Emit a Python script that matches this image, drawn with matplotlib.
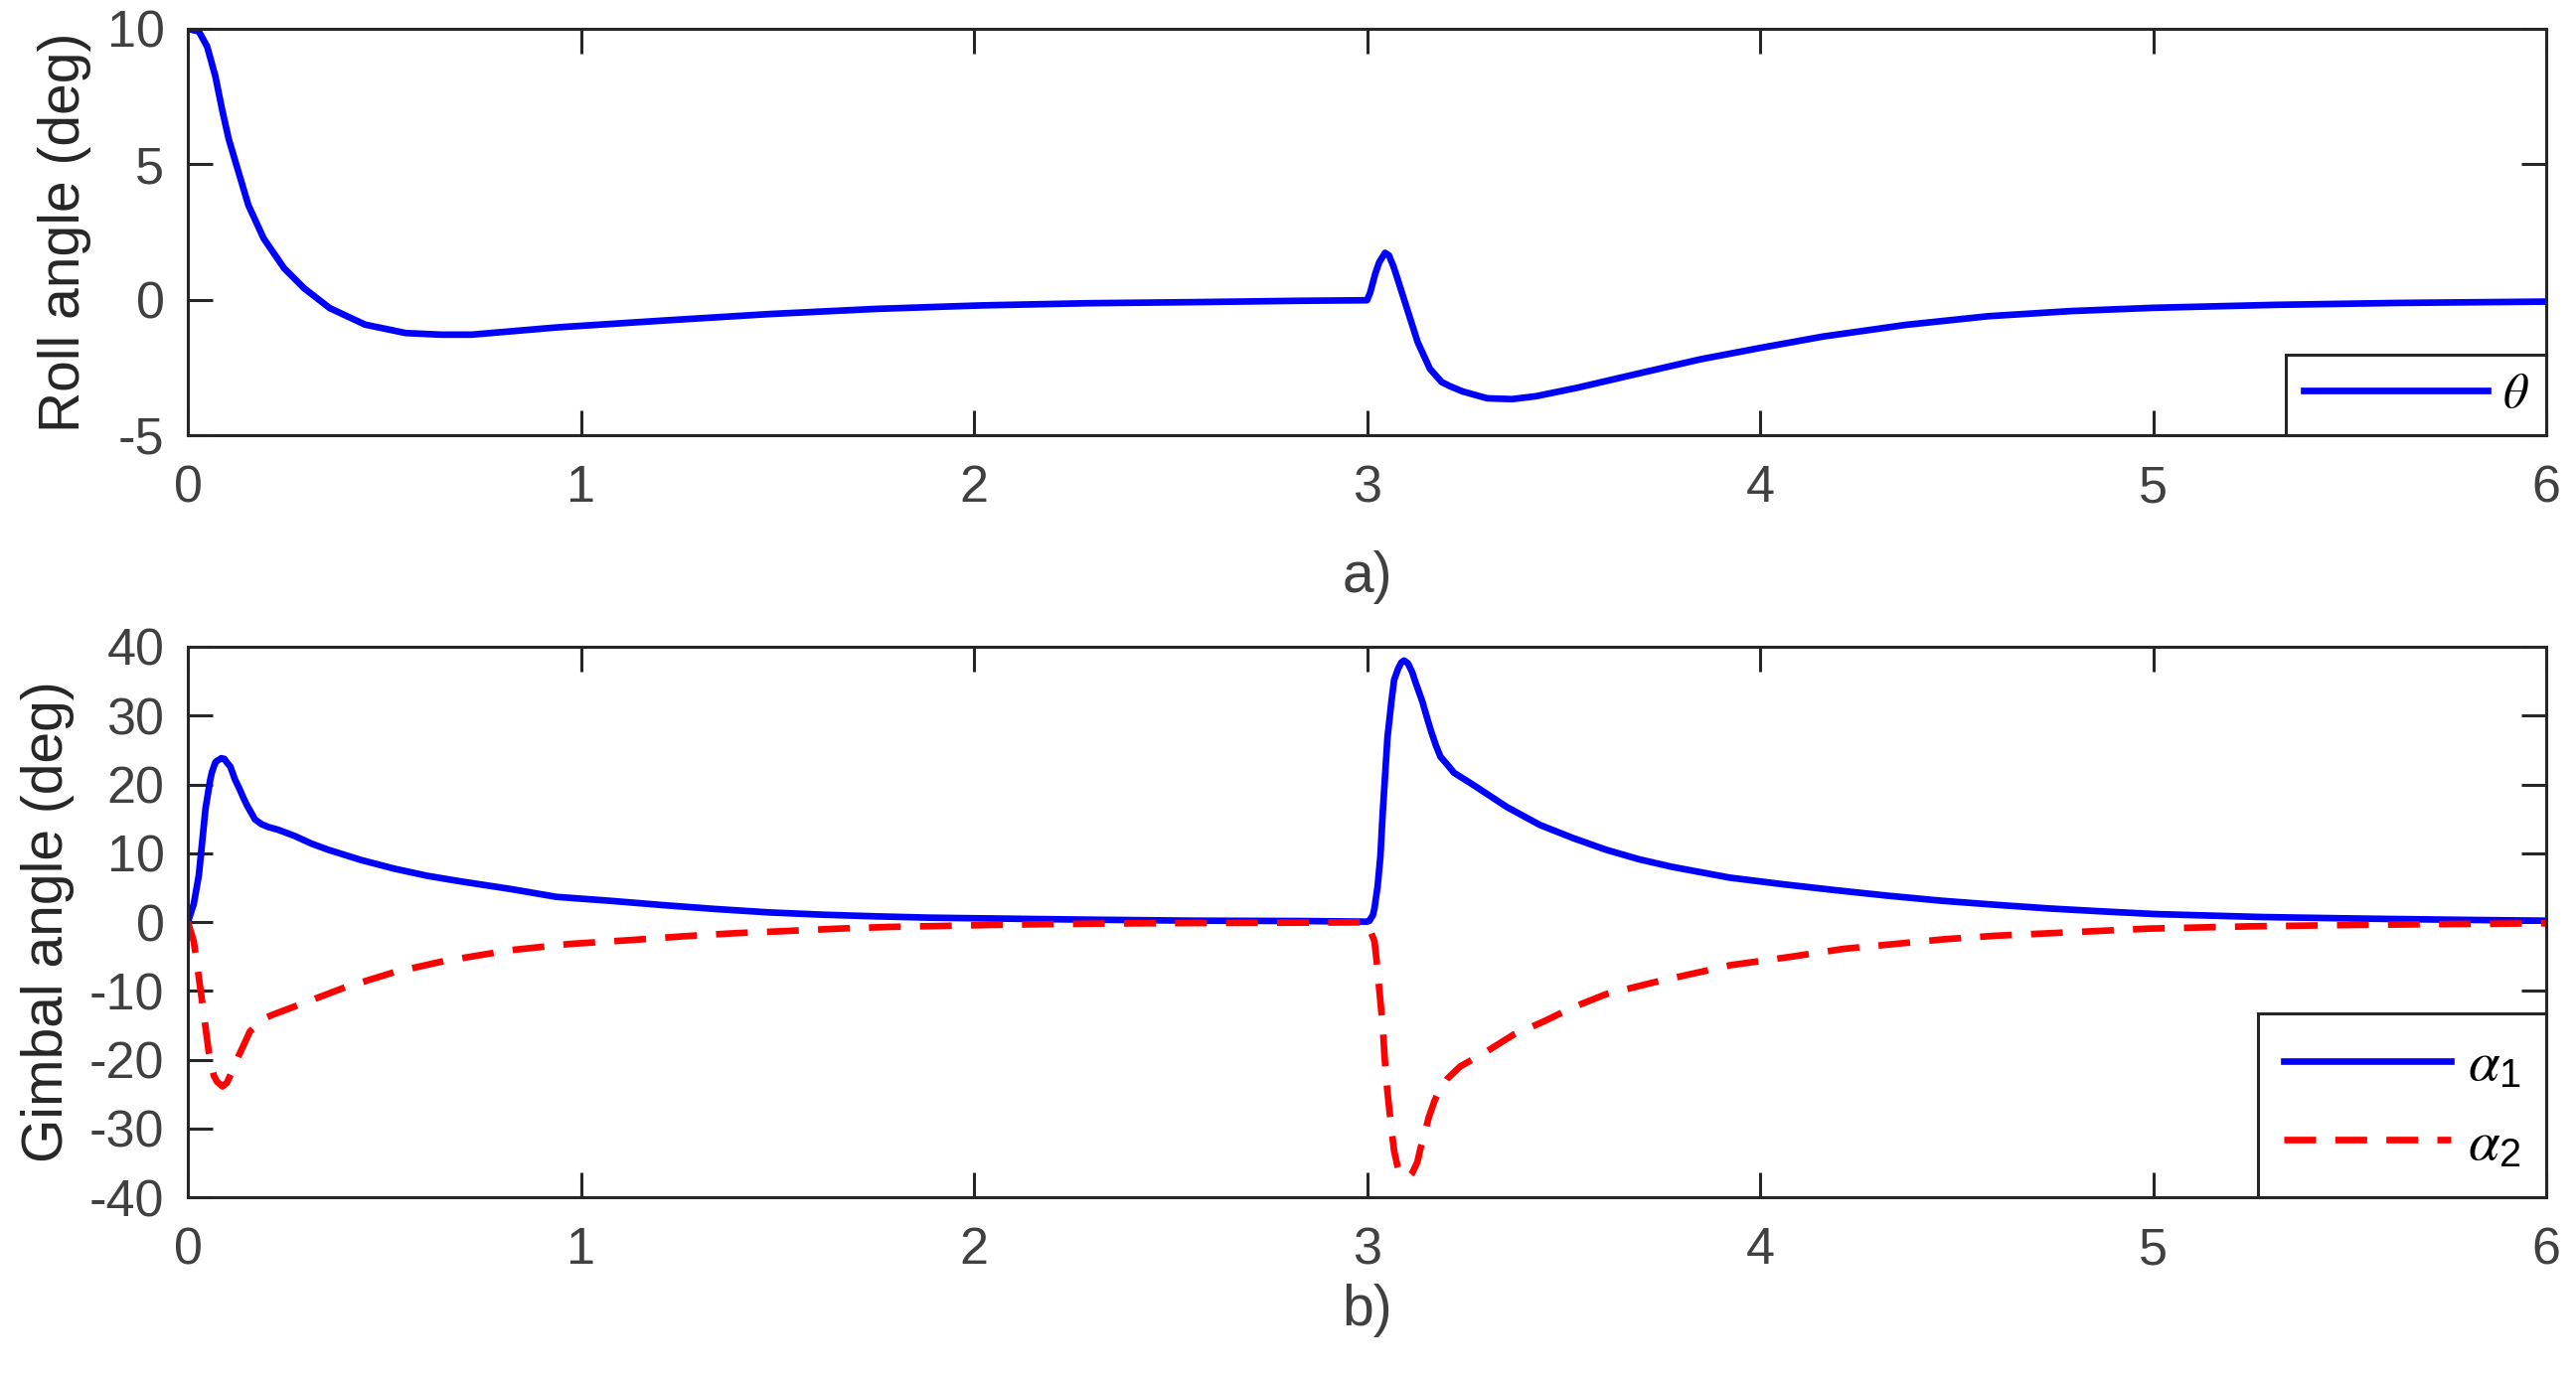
import matplotlib
matplotlib.use('Agg')
import matplotlib.pyplot as plt

# Roll angle theta (deg) vs time (s)
t_theta = [0, 0.028, 0.049, 0.07, 0.087, 0.104, 0.129, 0.154, 0.193, 0.245,
           0.296, 0.361, 0.451, 0.554, 0.644, 0.722, 0.941, 1.209, 1.479, 1.75,
           2.02, 2.29, 2.56, 2.83, 3.0, 3.008, 3.021, 3.031, 3.046, 3.056,
           3.067, 3.077, 3.098, 3.129, 3.16, 3.177, 3.19, 3.212,
           3.244, 3.306, 3.369, 3.431, 3.535, 3.68, 3.848, 4.0, 4.16, 4.37,
           4.58, 4.79, 5.0, 5.31, 5.62, 6.0]
theta = [10.0, 9.9, 9.35, 8.25, 7.03, 5.93, 4.71, 3.49, 2.26, 1.16,
         0.42, -0.31, -0.92, -1.23, -1.29, -1.29, -1.02, -0.77, -0.53, -0.34,
         -0.21, -0.13, -0.09, -0.04, -0.02, 0.26, 0.96, 1.38, 1.73, 1.63,
         1.24, 0.8, -0.16, -1.57, -2.55, -2.83, -3.04, -3.2,
         -3.39, -3.64, -3.67, -3.56, -3.25, -2.76, -2.2, -1.78, -1.36, -0.93,
         -0.61, -0.42, -0.30, -0.19, -0.12, -0.07]

# Gimbal angle alpha_1 (deg)
t_a1 = [0, 0.015, 0.028, 0.045, 0.057, 0.0615, 0.07, 0.074, 0.085, 0.093,
        0.099, 0.108, 0.12, 0.131, 0.141, 0.15, 0.163, 0.171, 0.188, 0.205,
        0.23, 0.272, 0.314, 0.357, 0.441, 0.525, 0.61, 0.694, 0.82, 0.938,
        1.074, 1.209, 1.344, 1.479, 1.615, 1.75, 1.886, 2.02, 2.157, 2.29,
        2.56, 2.83, 3.0, 3.006, 3.015, 3.019, 3.027, 3.034, 3.04, 3.046,
        3.052, 3.062, 3.069, 3.079, 3.087, 3.094, 3.104, 3.115, 3.123, 3.141,
        3.149, 3.162, 3.175, 3.187, 3.204, 3.221, 3.271, 3.356, 3.44, 3.524,
        3.608, 3.693, 3.777, 3.922, 4.057, 4.192, 4.328, 4.463, 4.599, 4.734,
        4.87, 5.006, 5.277, 5.547, 5.818, 6.0]
a1 = [0, 2.6, 6.8, 16.5, 20.7, 21.8, 23.2, 23.4, 23.8, 23.7,
      23.2, 22.6, 20.7, 19.4, 18.1, 17.0, 15.7, 14.9, 14.2, 13.8,
      13.4, 12.5, 11.4, 10.5, 9.0, 7.75, 6.7, 5.9, 4.8, 3.65,
      3.08, 2.45, 1.88, 1.39, 1.06, 0.82, 0.63, 0.53, 0.43, 0.34,
      0.19, 0.14, 0.05, 0.16, 1.0, 2.0, 5.2, 9.5, 15.9, 21.3,
      26.8, 32.0, 35.2, 36.8, 37.7, 38.0, 37.6, 36.3, 34.9, 32.0,
      30.4, 27.9, 25.7, 24.0, 22.9, 21.7, 19.9, 16.7, 14.1, 12.2,
      10.5, 9.1, 8.0, 6.45, 5.49, 4.62, 3.8, 3.08, 2.5, 1.97,
      1.54, 1.15, 0.72, 0.48, 0.29, 0.19]

# Gimbal angle alpha_2 (deg)
t_a2 = [0, 0.015, 0.032, 0.053, 0.059, 0.066, 0.074, 0.088, 0.099, 0.108,
        0.116, 0.128, 0.146, 0.158, 0.179, 0.195, 0.215, 0.28, 0.40, 0.525,
        0.65, 0.82, 0.97, 1.134, 1.263, 1.392, 1.527, 1.656, 1.784, 1.913,
        2.046, 2.174, 2.306, 2.434, 2.56, 2.83, 3.0, 3.019, 3.026, 3.031,
        3.04, 3.045, 3.052, 3.061, 3.069, 3.078, 3.082, 3.098, 3.107, 3.115,
        3.128, 3.136, 3.145, 3.157, 3.171, 3.178, 3.192, 3.204, 3.237, 3.305,
        3.372, 3.448, 3.524, 3.608, 3.735, 3.861, 3.922, 4.085, 4.213, 4.342,
        4.47, 4.599, 4.734, 4.99, 5.249, 5.513, 5.77, 6.0]
a2 = [0, -2.8, -9.7, -18.8, -20.6, -22.3, -23.2, -23.9, -23.4, -22.3,
      -21.3, -19.6, -17.4, -15.9, -14.8, -14.0, -13.5, -12.1, -9.5, -7.3,
      -5.7, -4.1, -3.2, -2.6, -2.07, -1.63, -1.3, -0.96, -0.72, -0.58,
      -0.43, -0.32, -0.24, -0.19, -0.16, -0.1, -0.05, -2.8, -6.5, -9.7,
      -15.1, -19.9, -24.7, -29.5, -33.3, -35.6, -36.4, -37.0, -37.0, -36.5,
      -34.9, -32.9, -31.1, -28.4, -26.1, -25.2, -23.9, -22.8, -21.0, -18.8,
      -16.4, -14.5, -12.4, -10.5, -8.7, -7.1, -6.3, -5.0, -3.9, -3.2,
      -2.5, -2.0, -1.64, -0.96, -0.63, -0.43, -0.29, -0.19]

x_ticks = [0, 1, 2, 3, 4, 5, 6]
roll_ticks = [-5, 0, 5, 10]
gimbal_ticks = [-40, -30, -20, -10, 0, 10, 20, 30, 40]

plt.rcParams['font.family'] = ['Liberation Sans', 'DejaVu Sans']
plt.rcParams['mathtext.fontset'] = 'stix'
plt.rcParams['axes.unicode_minus'] = False

axis_col = '#262626'
tick_col = '#404040'

fig = plt.figure(figsize=(25.92, 13.88), dpi=100)
ax1 = fig.add_axes([0.07292, 0.68444, 0.91551, 0.29467])
ax2 = fig.add_axes([0.07292, 0.13184, 0.91551, 0.39914])


def style(ax):
    for s in ax.spines.values():
        s.set_linewidth(2.2)
        s.set_color(axis_col)
    ax.tick_params(direction='in', length=18, width=2.2, color=axis_col,
                   labelcolor=tick_col, labelsize=37.5,
                   top=True, right=True)
    ax.tick_params(axis='x', pad=21)
    ax.tick_params(axis='y', pad=17)
    ax.set_xlim(0, 6)
    ax.set_xticks(x_ticks)


# a) roll angle
ax1.plot(t_theta, theta, color='#0000FF', lw=4.8, label=r'$\theta$')
style(ax1)
ax1.set_ylim(-5, 10)
ax1.set_yticks(roll_ticks)
ax1.set_ylabel('Roll angle (deg)', fontsize=41, color=axis_col, labelpad=11)
ax1.set_xlabel('a)', fontsize=41, color=tick_col, labelpad=27)
leg1 = ax1.legend(loc='lower right', fontsize=36, borderaxespad=0,
                  borderpad=0.35, handlelength=3.7, handletextpad=0.3,
                  fancybox=False, framealpha=1, edgecolor=axis_col)
leg1.get_frame().set_linewidth(2.2)

# b) gimbal angles
ax2.plot(t_a1, a1, color='#0000FF', lw=4.8, label=r'$\alpha_\mathregular{1}$')
ax2.plot(t_a2, a2, color='#FF0000', lw=4.8, dashes=(4.8, 2.9),
         label=r'$\alpha_\mathregular{2}$')
style(ax2)
ax2.set_ylim(-40, 40)
ax2.set_yticks(gimbal_ticks)
ax2.set_ylabel('Gimbal angle (deg)', fontsize=41, color=axis_col, labelpad=11)
ax2.set_xlabel('b)', fontsize=41, color=tick_col, labelpad=6)
leg2 = ax2.legend(loc='lower right', fontsize=41, borderaxespad=0,
                  borderpad=0.45, labelspacing=0.45, handlelength=2.95,
                  handletextpad=0.3, fancybox=False, framealpha=1,
                  edgecolor=axis_col)
leg2.get_frame().set_linewidth(2.2)

fig.savefig('out.png', dpi=100)
